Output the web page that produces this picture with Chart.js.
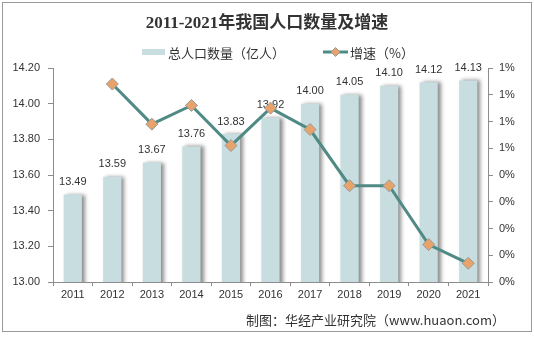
<!DOCTYPE html>
<html>
<head>
<meta charset="utf-8">
<script src="https://cdn.jsdelivr.net/npm/chart.js@4/dist/chart.umd.min.js"></script>
<style>
  html, body { margin: 0; padding: 0; background: #fff; }
  #wrap { width: 534px; height: 337px; position: relative; }
</style>
</head>
<body>
<div id="wrap"><canvas id="c" width="534" height="337"></canvas></div>
<script>
// 2011-2021 population (100 million) and annual growth rate (%)
const years = ['2011', '2012', '2013', '2014', '2015', '2016', '2017', '2018', '2019', '2020', '2021'];
const population = [13.49, 13.59, 13.67, 13.76, 13.83, 13.92, 14.00, 14.05, 14.10, 14.12, 14.13];
const growthRate = [null, 0.74, 0.59, 0.66, 0.51, 0.65, 0.57, 0.36, 0.36, 0.14, 0.07];
const leftTicks = { min: 13.0, max: 14.2, step: 0.2 };
const rightTicks = { min: 0, max: 0.8, step: 0.1 };

const titleText = '2011-2021年我国人口数量及增速';
const legendBar = '总人口数量（亿人）';
const legendLine = '增速（%）';
const sourceText = '制图：华经产业研究院（www.huaon.com）';

const BAR_COLOR = 'rgb(200,221,223)';
const LINE_COLOR = 'rgb(79,138,132)';
const POINT_COLOR = 'rgb(232,163,106)';
const AXIS_COLOR = '#8c8c8c';
const TEXT_COLOR = '#333';
const CJK = '"Noto Sans CJK SC", "Liberation Sans", sans-serif';

// frame, title, legend and source line
const decor = {
  id: 'decor',
  beforeDraw(chart) {
    const ctx = chart.ctx;
    ctx.save();
    ctx.fillStyle = '#fff';
    ctx.fillRect(0, 0, chart.width, chart.height);
    ctx.strokeStyle = '#9a9a9a';
    ctx.lineWidth = 1;
    ctx.strokeRect(2.5, 2.5, 529, 329);
    ctx.restore();
  },
  afterDraw(chart) {
    const ctx = chart.ctx;
    ctx.save();
    ctx.fillStyle = TEXT_COLOR;
    ctx.textAlign = 'center';
    ctx.textBaseline = 'middle';
    ctx.font = 'bold 17px "Liberation Serif", "Noto Sans CJK SC", serif';
    ctx.fillText(titleText, 267, 24);

    // legend: bar swatch
    const ly = 52;
    ctx.fillStyle = BAR_COLOR;
    ctx.fillRect(142, ly - 3, 23, 6);
    ctx.fillStyle = TEXT_COLOR;
    ctx.font = '13px ' + CJK;
    ctx.textAlign = 'left';
    ctx.fillText(legendBar, 168, ly + 1);

    // legend: line with diamond marker
    ctx.strokeStyle = LINE_COLOR;
    ctx.lineWidth = 3;
    ctx.beginPath();
    ctx.moveTo(323, ly);
    ctx.lineTo(348, ly);
    ctx.stroke();
    ctx.fillStyle = POINT_COLOR;
    ctx.strokeStyle = '#999';
    ctx.lineWidth = 1;
    ctx.beginPath();
    ctx.moveTo(335.5, ly - 4.5);
    ctx.lineTo(340, ly);
    ctx.lineTo(335.5, ly + 4.5);
    ctx.lineTo(331, ly);
    ctx.closePath();
    ctx.fill();
    ctx.stroke();
    ctx.fillStyle = TEXT_COLOR;
    ctx.fillText(legendLine, 350, ly + 1);

    // source line
    ctx.textAlign = 'right';
    ctx.font = '13px ' + CJK;
    ctx.fillText(sourceText, 505, 320);
    ctx.restore();
  }
};

// soft shadow on the right of bars
const barShadow = {
  id: 'barShadow',
  beforeDatasetDraw(chart, args) {
    if (args.meta.type !== 'bar') return;
    const ctx = chart.ctx;
    ctx.save();
    ctx.shadowColor = 'rgba(0,0,0,0.45)';
    ctx.shadowBlur = 4;
    ctx.shadowOffsetX = 3;
    ctx.shadowOffsetY = 0;
  },
  afterDatasetDraw(chart, args) {
    if (args.meta.type !== 'bar') return;
    chart.ctx.restore();
  }
};

// value labels above bars (drawn before the line so the line sits on top)
const barLabels = {
  id: 'barLabels',
  afterDatasetDraw(chart, args) {
    if (args.meta.type !== 'bar') return;
    const meta = args.meta;
    const ctx = chart.ctx;
    ctx.save();
    ctx.fillStyle = TEXT_COLOR;
    ctx.font = '11px "Liberation Sans", Arial, sans-serif';
    ctx.textAlign = 'center';
    ctx.textBaseline = 'bottom';
    meta.data.forEach((bar, i) => {
      ctx.fillText(population[i].toFixed(2), bar.x, bar.y - 7);
    });
    ctx.restore();
  }
};

new Chart(document.getElementById('c'), {
  data: {
    labels: years,
    datasets: [
      {
        type: 'line',
        label: legendLine,
        data: growthRate,
        yAxisID: 'y1',
        borderColor: LINE_COLOR,
        borderWidth: 3,
        pointStyle: 'rectRot',
        pointRadius: 6,
        pointBackgroundColor: POINT_COLOR,
        pointBorderColor: '#999',
        pointBorderWidth: 1,
        tension: 0,
        order: 0
      },
      {
        type: 'bar',
        label: legendBar,
        data: population,
        yAxisID: 'y',
        backgroundColor: BAR_COLOR,
        barPercentage: 0.46,
        categoryPercentage: 1,
        order: 1
      }
    ]
  },
  options: {
    responsive: false,
    animation: false,
    devicePixelRatio: 1,
    layout: { padding: { left: 6, right: 6, top: 68, bottom: 35 } },
    plugins: {
      legend: { display: false },
      title: { display: false },
      tooltip: { enabled: false }
    },
    scales: {
      x: {
        grid: { offset: true, drawOnChartArea: false, tickLength: 4, color: AXIS_COLOR },
        border: { color: AXIS_COLOR },
        ticks: { color: TEXT_COLOR, font: { size: 11, family: '"Liberation Sans", Arial' }, padding: 2, maxRotation: 0 },
        afterFit(s) { s.height = 20; }
      },
      y: {
        position: 'left',
        min: leftTicks.min,
        max: leftTicks.max,
        grid: { drawOnChartArea: false, tickLength: 5, color: AXIS_COLOR },
        border: { color: AXIS_COLOR },
        ticks: {
          stepSize: leftTicks.step,
          color: TEXT_COLOR,
          font: { size: 11, family: '"Liberation Sans", Arial' },
          padding: 8,
          callback: v => v.toFixed(2)
        },
        afterFit(s) { s.width = 47; }
      },
      y1: {
        position: 'right',
        min: rightTicks.min,
        max: rightTicks.max,
        grid: { drawOnChartArea: false, tickLength: 5, color: AXIS_COLOR },
        border: { color: AXIS_COLOR },
        ticks: {
          stepSize: rightTicks.step,
          color: TEXT_COLOR,
          font: { size: 11, family: '"Liberation Sans", Arial' },
          padding: 6,
          callback: v => Math.round(Math.round(v * 10) / 10 + 1e-9) + '%'
        },
        afterFit(s) { s.width = 40; }
      }
    }
  },
  plugins: [decor, barShadow, barLabels]
});
</script>
</body>
</html>
